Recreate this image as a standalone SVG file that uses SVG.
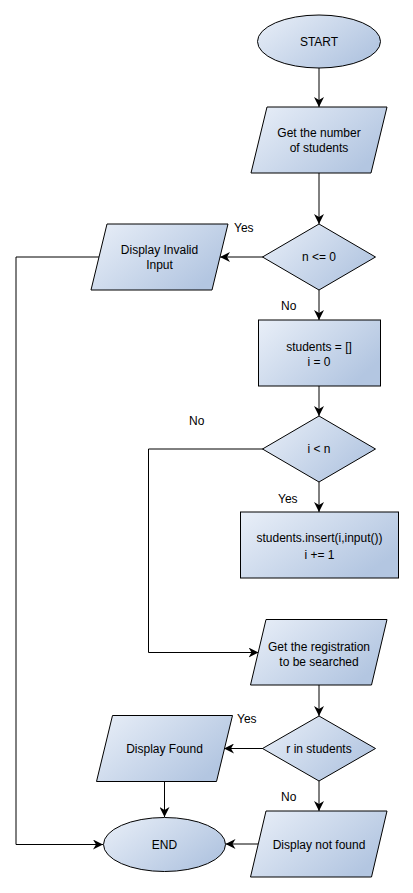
<svg xmlns="http://www.w3.org/2000/svg" width="413" height="893" viewBox="0 0 413 893">
<defs>
<linearGradient id="g" x1="0" y1="0" x2="1" y2="0.6">
<stop offset="0" stop-color="#e9eff8"/>
<stop offset="1" stop-color="#b3c6e1"/>
</linearGradient>
<marker id="arr" viewBox="0 0 10 10" refX="10" refY="5" markerWidth="10" markerHeight="10" markerUnits="userSpaceOnUse" orient="auto">
<path d="M0,0 L10,5 L0,10 L3,5 Z" fill="#000"/>
</marker>
</defs>
<style>
.s{fill:url(#g);stroke:#000;stroke-width:1}
.t{font-family:"Liberation Sans",Arial,sans-serif;font-size:12px;fill:#000;text-anchor:middle}
.l{font-family:"Liberation Sans",Arial,sans-serif;font-size:12px;fill:#000}
.c{fill:none;stroke:#000;stroke-width:1}
</style>
<rect width="413" height="893" fill="#fff"/>
<g id="connectors">
<path class="c" d="M319,68 L319,107" marker-end="url(#arr)"/>
<path class="c" d="M319,173 L319,224" marker-end="url(#arr)"/>
<path class="c" d="M263,257 L220,257" marker-end="url(#arr)"/>
<path class="c" d="M99,257 L16,257 L16,844.5 L103,844.5" marker-end="url(#arr)"/>
<path class="c" d="M319,290 L319,320" marker-end="url(#arr)"/>
<path class="c" d="M319,386 L319,416" marker-end="url(#arr)"/>
<path class="c" d="M263,449 L148.5,449 L148.5,652.5 L258.5,652.5" marker-end="url(#arr)"/>
<path class="c" d="M319,482 L319,512" marker-end="url(#arr)"/>
<path class="c" d="M319,685 L319,716" marker-end="url(#arr)"/>
<path class="c" d="M263,748.5 L224,748.5" marker-end="url(#arr)"/>
<path class="c" d="M164.5,782 L164.5,817" marker-end="url(#arr)"/>
<path class="c" d="M319,781 L319,811" marker-end="url(#arr)"/>
<path class="c" d="M258.5,844 L225.5,844" marker-end="url(#arr)"/>
</g>
<g id="labels">
<text class="l" x="234" y="232">Yes</text>
<text class="l" x="281" y="310">No</text>
<text class="l" x="189" y="425">No</text>
<text class="l" x="278" y="503">Yes</text>
<text class="l" x="237" y="723">Yes</text>
<text class="l" x="281" y="801">No</text>
</g>
<g id="start">
<ellipse class="s" cx="319" cy="41.5" rx="61.5" ry="26.5"/>
<text class="t" x="319" y="45.5">START</text>
</g>
<g id="get-number">
<path class="s" d="M267,107 L387,107 L371,173 L251,173 Z"/>
<text class="t" x="319" y="136.5">Get the number</text>
<text class="t" x="319" y="151.5">of students</text>
</g>
<g id="check-n">
<path class="s" d="M319,224 L375.5,257 L319,290 L262.5,257 Z"/>
<text class="t" x="319" y="261">n &lt;= 0</text>
</g>
<g id="display-invalid">
<path class="s" d="M107,224 L228,224 L212,290 L91,290 Z"/>
<text class="t" x="159.5" y="254">Display Invalid</text>
<text class="t" x="159.5" y="269">Input</text>
</g>
<g id="init">
<rect class="s" x="258.5" y="320" width="122" height="66"/>
<text class="t" x="319" y="350.5">students = []</text>
<text class="t" x="319" y="365.5">i = 0</text>
</g>
<g id="check-i">
<path class="s" d="M319,416 L375.5,449 L319,482 L262.5,449 Z"/>
<text class="t" x="319" y="453">i &lt; n</text>
</g>
<g id="insert">
<rect class="s" x="240.5" y="512" width="158" height="66"/>
<text class="t" x="319.5" y="542">students.insert(i,input())</text>
<text class="t" x="319.5" y="558.5">i += 1</text>
</g>
<g id="get-registration">
<path class="s" d="M266,619.5 L387,619.5 L371.5,685 L250.5,685 Z"/>
<text class="t" x="319" y="650.5">Get the registration</text>
<text class="t" x="319" y="665.5">to be searched</text>
</g>
<g id="check-r">
<path class="s" d="M319,716 L375.5,748.5 L319,781 L262.5,748.5 Z"/>
<text class="t" x="319" y="752.5">r in students</text>
</g>
<g id="display-found">
<path class="s" d="M112.5,715.5 L232.5,715.5 L216.5,781.5 L96.5,781.5 Z"/>
<text class="t" x="164.5" y="752.5">Display Found</text>
</g>
<g id="display-not-found">
<path class="s" d="M266,811 L387,811 L371.5,877 L250.5,877 Z"/>
<text class="t" x="319" y="848.5">Display not found</text>
</g>
<g id="end">
<ellipse class="s" cx="164.5" cy="844.5" rx="61" ry="27"/>
<text class="t" x="164.5" y="848.5">END</text>
</g>
</svg>
